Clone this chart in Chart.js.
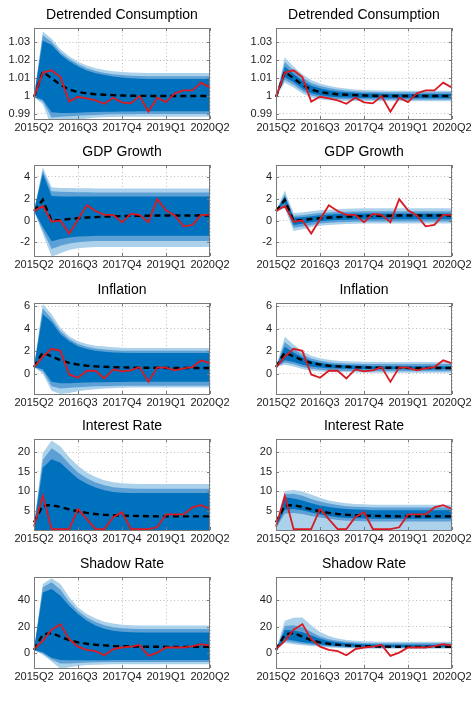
<!DOCTYPE html>
<html>
<head>
<meta charset="utf-8">
<script src="https://cdn.jsdelivr.net/npm/chart.js@4.4.1/dist/chart.umd.min.js"></script>
<style>
  body { margin: 0; background: #fff; }
  #wrap { position: relative; width: 474px; height: 717px; }
  canvas { position: absolute; }
</style>
</head>
<body>
<div id="wrap"></div>
<script>
// 四半期
const quarters = ['2015Q2','2015Q3','2015Q4','2016Q1','2016Q2','2016Q3','2016Q4','2017Q1','2017Q2','2017Q3',
  '2017Q4','2018Q1','2018Q2','2018Q3','2018Q4','2019Q1','2019Q2','2019Q3','2019Q4','2020Q1','2020Q2'];

// Detrended Consumption
const consTicks = [0.99, 1, 1.01, 1.02, 1.03];
const consRange = [0.9872, 1.038];
const consActual = [0.9995, 1.0131, 1.0144, 1.0106, 0.9969, 0.9996, 0.9987, 0.9976, 0.9957, 0.9991, 0.9965, 0.9959, 1.0000, 0.9913, 0.9991, 0.9966, 1.0015, 1.0032, 1.0032, 1.0075, 1.0047];
const consMean = [0.9995, 1.0135, 1.0100, 1.0063, 1.0036, 1.0023, 1.0015, 1.0010, 1.0007, 1.0005, 1.0003, 1.0002, 1.0001, 1.0001, 1.0000, 1.0000, 1.0000, 1.0000, 1.0000, 1.0000, 1.0000];
const consA_hiOut = [0.9995, 1.036, 1.032, 1.0262, 1.0222, 1.0192, 1.0170, 1.0155, 1.0145, 1.0139, 1.0135, 1.0132, 1.0130, 1.0129, 1.0129, 1.0129, 1.0129, 1.0129, 1.0129, 1.0129, 1.0129];
const consA_hiMid = [0.9995, 1.034, 1.0302, 1.0245, 1.0207, 1.0178, 1.0155, 1.0140, 1.0129, 1.0122, 1.0117, 1.0114, 1.0112, 1.0110, 1.0110, 1.0110, 1.0110, 1.0110, 1.0110, 1.0110, 1.0110];
const consA_hiIn = [0.9995, 1.031, 1.0285, 1.0232, 1.0195, 1.0165, 1.0143, 1.0128, 1.0117, 1.0109, 1.0104, 1.0100, 1.0097, 1.0095, 1.0095, 1.0095, 1.0095, 1.0095, 1.0095, 1.0095, 1.0095];
const consA_loIn = [0.9995, 0.998, 0.991, 0.9905, 0.9905, 0.9907, 0.9909, 0.9911, 0.9912, 0.9913, 0.9914, 0.9914, 0.9915, 0.9915, 0.9915, 0.9915, 0.9915, 0.9915, 0.9915, 0.9915, 0.9915];
const consA_loMid = [0.9995, 0.997, 0.988, 0.9885, 0.9888, 0.9890, 0.9893, 0.9895, 0.9897, 0.9898, 0.9899, 0.9899, 0.9900, 0.9900, 0.9900, 0.9900, 0.9900, 0.9900, 0.9900, 0.9900, 0.9900];
const consA_loOut = [0.9995, 0.9955, 0.983, 0.984, 0.9855, 0.9868, 0.9875, 0.9880, 0.9882, 0.9883, 0.9884, 0.9884, 0.9885, 0.9885, 0.9885, 0.9885, 0.9885, 0.9885, 0.9885, 0.9885, 0.9885];
const consB_hiOut = [0.9995, 1.0215, 1.0165, 1.0122, 1.0090, 1.0070, 1.0057, 1.0048, 1.0042, 1.0037, 1.0034, 1.0032, 1.0031, 1.0030, 1.0030, 1.0030, 1.0030, 1.0030, 1.0030, 1.0030, 1.0030];
const consB_hiMid = [0.9995, 1.0190, 1.0143, 1.0103, 1.0073, 1.0056, 1.0045, 1.0037, 1.0031, 1.0027, 1.0024, 1.0023, 1.0022, 1.0021, 1.0021, 1.0021, 1.0021, 1.0021, 1.0021, 1.0021, 1.0021];
const consB_hiIn = [0.9995, 1.0165, 1.0123, 1.0086, 1.0058, 1.0043, 1.0033, 1.0026, 1.0021, 1.0018, 1.0015, 1.0014, 1.0013, 1.0012, 1.0012, 1.0012, 1.0012, 1.0012, 1.0012, 1.0012, 1.0012];
const consB_loIn = [0.9995, 1.0105, 1.0078, 1.0042, 1.0016, 1.0004, 0.9998, 0.9994, 0.9992, 0.9990, 0.9989, 0.9989, 0.9988, 0.9988, 0.9988, 0.9988, 0.9988, 0.9988, 0.9988, 0.9988, 0.9988];
const consB_loMid = [0.9995, 1.0090, 1.0063, 1.0028, 1.0003, 0.9992, 0.9987, 0.9984, 0.9982, 0.9981, 0.9981, 0.9980, 0.9980, 0.9980, 0.9980, 0.9980, 0.9980, 0.9980, 0.9980, 0.9980, 0.9980];
const consB_loOut = [0.9995, 1.0075, 1.0048, 1.0014, 0.9991, 0.9981, 0.9976, 0.9974, 0.9973, 0.9972, 0.9972, 0.9971, 0.9971, 0.9971, 0.9971, 0.9971, 0.9971, 0.9971, 0.9971, 0.9971, 0.9971];

// GDP Growth
const gdpTicks = [-2, 0, 2, 4];
const gdpRange = [-3.25, 5.1];
const gdpActual = [0.87, 1.34, -0.1, 0.0, -1.19, 0.1, 1.4, 0.88, 0.53, 0.53, -0.16, 0.62, 0.53, -0.16, 1.97, 0.94, 0.47, -0.53, -0.4, 0.53, 0.53];
const gdpMean = [0.87, 1.9, -0.02, 0.05, 0.15, 0.22, 0.28, 0.32, 0.36, 0.39, 0.41, 0.43, 0.44, 0.45, 0.46, 0.46, 0.47, 0.47, 0.47, 0.47, 0.47];
const gdpA_hiOut = [0.87, 4.9, 3.05, 3.0, 2.98, 2.97, 2.96, 2.95, 2.95, 2.95, 2.95, 2.95, 2.95, 2.95, 2.95, 2.95, 2.95, 2.95, 2.95, 2.95, 2.95];
const gdpA_hiMid = [0.87, 4.6, 2.7, 2.65, 2.62, 2.6, 2.6, 2.58, 2.58, 2.58, 2.58, 2.58, 2.58, 2.58, 2.58, 2.58, 2.58, 2.58, 2.58, 2.58, 2.58];
const gdpA_hiIn = [0.87, 4.3, 2.25, 2.22, 2.2, 2.2, 2.2, 2.2, 2.2, 2.2, 2.2, 2.2, 2.2, 2.2, 2.2, 2.2, 2.2, 2.2, 2.2, 2.2, 2.2];
const gdpA_loIn = [0.87, -0.6, -1.9, -1.7, -1.55, -1.47, -1.43, -1.4, -1.4, -1.4, -1.4, -1.4, -1.4, -1.4, -1.4, -1.4, -1.4, -1.4, -1.4, -1.4, -1.4];
const gdpA_loMid = [0.87, -0.9, -2.6, -2.3, -2.1, -1.98, -1.92, -1.88, -1.88, -1.88, -1.88, -1.88, -1.88, -1.88, -1.88, -1.88, -1.88, -1.88, -1.88, -1.88, -1.88];
const gdpA_loOut = [0.87, -1.2, -3.3, -3.0, -2.7, -2.55, -2.47, -2.42, -2.42, -2.42, -2.42, -2.42, -2.42, -2.42, -2.42, -2.42, -2.42, -2.42, -2.42, -2.42, -2.42];
const gdpB_hiOut = [0.87, 2.75, 0.7, 0.75, 0.85, 0.95, 1.0, 1.05, 1.08, 1.1, 1.12, 1.12, 1.12, 1.12, 1.12, 1.12, 1.12, 1.12, 1.12, 1.12, 1.12];
const gdpB_hiMid = [0.87, 2.4, 0.45, 0.5, 0.6, 0.7, 0.75, 0.8, 0.82, 0.84, 0.86, 0.86, 0.86, 0.86, 0.86, 0.86, 0.86, 0.86, 0.86, 0.86, 0.86];
const gdpB_hiIn = [0.87, 2.2, 0.25, 0.3, 0.4, 0.5, 0.55, 0.6, 0.62, 0.64, 0.66, 0.66, 0.66, 0.66, 0.66, 0.66, 0.66, 0.66, 0.66, 0.66, 0.66];
const gdpB_loIn = [0.87, 1.6, -0.4, -0.3, -0.15, -0.05, 0.0, 0.05, 0.08, 0.1, 0.12, 0.12, 0.12, 0.12, 0.12, 0.12, 0.12, 0.12, 0.12, 0.12, 0.12];
const gdpB_loMid = [0.87, 1.35, -0.65, -0.55, -0.4, -0.27, -0.2, -0.15, -0.12, -0.1, -0.08, -0.08, -0.08, -0.08, -0.08, -0.08, -0.08, -0.08, -0.08, -0.08, -0.08];
const gdpB_loOut = [0.87, 1.1, -0.95, -0.8, -0.62, -0.48, -0.4, -0.35, -0.31, -0.29, -0.27, -0.27, -0.27, -0.27, -0.27, -0.27, -0.27, -0.27, -0.27, -0.27, -0.27];

// Inflation
const inflTicks = [0, 2, 4, 6];
const inflRange = [-1.8, 6.3];
const inflActual = [0.57, 1.53, 2.22, 2.04, -0.06, -0.36, 0.27, 0.27, -0.42, 0.39, 0.21, 0.3, 0.6, -0.72, 0.57, 0.54, 0.3, 0.48, 0.6, 1.2, 0.93];
const inflMean = [0.6, 1.9, 1.55, 1.2, 0.97, 0.82, 0.72, 0.66, 0.62, 0.59, 0.57, 0.55, 0.54, 0.53, 0.53, 0.52, 0.52, 0.51, 0.51, 0.51, 0.51];
const inflA_hiOut = [0.6, 6.2, 5.3, 4.1, 3.35, 2.9, 2.65, 2.5, 2.42, 2.36, 2.32, 2.3, 2.3, 2.3, 2.3, 2.3, 2.3, 2.3, 2.3, 2.3, 2.3];
const inflA_hiMid = [0.6, 5.8, 4.9, 3.8, 3.1, 2.65, 2.4, 2.25, 2.15, 2.1, 2.06, 2.04, 2.04, 2.04, 2.04, 2.04, 2.04, 2.04, 2.04, 2.04, 2.04];
const inflA_hiIn = [0.6, 5.3, 4.6, 3.55, 2.9, 2.45, 2.2, 2.05, 1.95, 1.9, 1.87, 1.85, 1.85, 1.85, 1.85, 1.85, 1.85, 1.85, 1.85, 1.85, 1.85];
const inflA_loIn = [0.6, 0.4, -0.7, -0.85, -0.85, -0.8, -0.78, -0.76, -0.75, -0.74, -0.73, -0.72, -0.72, -0.72, -0.72, -0.72, -0.72, -0.72, -0.72, -0.72, -0.72];
const inflA_loMid = [0.6, 0.2, -1.1, -1.3, -1.25, -1.2, -1.15, -1.12, -1.1, -1.08, -1.07, -1.06, -1.06, -1.06, -1.06, -1.06, -1.06, -1.06, -1.06, -1.06, -1.06];
const inflA_loOut = [0.6, 0.0, -1.5, -1.8, -1.7, -1.55, -1.45, -1.38, -1.32, -1.28, -1.25, -1.22, -1.22, -1.22, -1.22, -1.22, -1.22, -1.22, -1.22, -1.22, -1.22];
const inflB_hiOut = [0.6, 3.3, 2.6, 2.0, 1.6, 1.38, 1.25, 1.17, 1.12, 1.09, 1.07, 1.05, 1.05, 1.05, 1.05, 1.05, 1.05, 1.05, 1.05, 1.05, 1.05];
const inflB_hiMid = [0.6, 2.8, 2.2, 1.7, 1.35, 1.15, 1.03, 0.96, 0.92, 0.89, 0.87, 0.86, 0.86, 0.86, 0.86, 0.86, 0.86, 0.86, 0.86, 0.86, 0.86];
const inflB_hiIn = [0.6, 2.4, 1.9, 1.45, 1.15, 0.98, 0.87, 0.8, 0.76, 0.73, 0.71, 0.68, 0.67, 0.67, 0.67, 0.67, 0.67, 0.67, 0.67, 0.67, 0.67];
const inflB_loIn = [0.6, 1.2, 1.05, 0.8, 0.65, 0.55, 0.5, 0.46, 0.44, 0.42, 0.41, 0.4, 0.4, 0.4, 0.4, 0.4, 0.4, 0.4, 0.4, 0.4, 0.4];
const inflB_loMid = [0.6, 1.0, 0.85, 0.6, 0.45, 0.36, 0.3, 0.27, 0.25, 0.24, 0.23, 0.22, 0.22, 0.22, 0.22, 0.22, 0.22, 0.22, 0.22, 0.22, 0.22];
const inflB_loOut = [0.6, 0.8, 0.65, 0.42, 0.28, 0.2, 0.16, 0.14, 0.13, 0.12, 0.11, 0.1, 0.1, 0.1, 0.1, 0.1, 0.1, 0.1, 0.1, 0.1, 0.1];

// Interest Rate
const rateTicks = [5, 10, 15, 20];
const rateRange = [0, 23.4];
const rateActual = [0.9, 8.8, 0.25, 0.25, 0.25, 5.4, 2.8, 0.25, 0.25, 3.3, 4.6, 0.25, 0.25, 0.25, 0.7, 4.0, 4.0, 4.0, 5.8, 6.4, 5.4];
const rateMean = [2.0, 6.3, 6.4, 5.9, 5.3, 4.8, 4.4, 4.1, 3.9, 3.8, 3.7, 3.65, 3.6, 3.55, 3.5, 3.5, 3.5, 3.5, 3.5, 3.5, 3.5];
const rateA_hiOut = [1.0, 19.8, 23.0, 21.5, 18.7, 16.5, 14.8, 13.6, 12.8, 12.3, 12.0, 11.9, 11.8, 11.8, 11.8, 11.8, 11.8, 11.8, 11.8, 11.8, 11.8];
const rateA_hiMid = [1.0, 18.0, 21.0, 19.5, 17.0, 14.8, 13.3, 12.2, 11.5, 11.0, 10.8, 10.7, 10.6, 10.6, 10.6, 10.6, 10.6, 10.6, 10.6, 10.6, 10.6];
const rateA_hiIn = [1.0, 16.0, 18.2, 17.3, 15.2, 13.2, 11.9, 10.9, 10.2, 9.8, 9.6, 9.5, 9.5, 9.5, 9.5, 9.5, 9.5, 9.5, 9.5, 9.5, 9.5];
const rateA_loIn = [0, 0, 0, 0, 0, 0, 0, 0, 0, 0, 0, 0, 0, 0, 0, 0, 0, 0, 0, 0, 0];
const rateA_loMid = [0, 0, 0, 0, 0, 0, 0, 0, 0, 0, 0, 0, 0, 0, 0, 0, 0, 0, 0, 0, 0];
const rateA_loOut = [0, 0, 0, 0, 0, 0, 0, 0, 0, 0, 0, 0, 0, 0, 0, 0, 0, 0, 0, 0, 0];
const rateB_hiOut = [1.0, 10.0, 10.3, 9.9, 9.1, 8.3, 7.6, 7.2, 6.9, 6.7, 6.6, 6.5, 6.5, 6.5, 6.5, 6.5, 6.5, 6.5, 6.5, 6.5, 6.5];
const rateB_hiMid = [1.0, 9.2, 9.3, 8.8, 8.0, 7.3, 6.8, 6.4, 6.1, 6.0, 5.9, 5.8, 5.8, 5.8, 5.8, 5.8, 5.8, 5.8, 5.8, 5.8, 5.8];
const rateB_hiIn = [1.0, 8.4, 8.1, 7.6, 6.9, 6.3, 5.9, 5.6, 5.4, 5.3, 5.2, 5.1, 5.1, 5.1, 5.1, 5.1, 5.1, 5.1, 5.1, 5.1, 5.1];
const rateB_loIn = [0.8, 5.2, 5.4, 5.1, 4.5, 4.0, 3.6, 3.3, 3.1, 3.0, 2.95, 2.9, 2.9, 2.9, 2.9, 2.9, 2.9, 2.9, 2.9, 2.9, 2.9];
const rateB_loMid = [0.5, 4.2, 4.4, 4.1, 3.6, 3.2, 2.9, 2.6, 2.4, 2.3, 2.25, 2.2, 2.2, 2.2, 2.2, 2.2, 2.2, 2.2, 2.2, 2.2, 2.2];
const rateB_loOut = [0, 0, 0, 0, 0, 0, 0, 0, 0, 0, 0, 0, 0, 0, 0, 0, 0, 0, 0, 0, 0];

// Shadow Rate
const shadTicks = [0, 20, 40];
const shadRange = [-11.5, 57.8];
const shadActual = [2.8, 9.2, 17.6, 21.9, 10.4, 4.8, 2.3, 1.3, -1.8, 2.8, 4.1, 4.8, 6.1, -2.3, 0.25, 4.1, 4.1, 4.1, 5.1, 6.6, 5.6];
const shadMean = [2.3, 14.0, 15.2, 12.3, 9.8, 8.0, 7.0, 6.2, 5.7, 5.3, 5.1, 4.9, 4.8, 4.7, 4.7, 4.6, 4.6, 4.6, 4.6, 4.6, 4.6];
const shadA_hiOut = [2.3, 52.5, 56.8, 52.5, 42.3, 34.6, 29.6, 26.2, 23.8, 22.3, 21.4, 21.0, 20.8, 20.8, 20.8, 20.8, 20.8, 20.8, 20.8, 20.8, 20.8];
const shadA_hiMid = [2.3, 50.0, 53.8, 48.0, 39.0, 32.0, 27.0, 23.5, 21.0, 19.6, 18.8, 18.4, 18.2, 18.2, 18.2, 18.2, 18.2, 18.2, 18.2, 18.2, 18.2];
const shadA_hiIn = [2.3, 46.0, 48.7, 43.6, 35.9, 29.6, 24.5, 20.8, 18.3, 16.9, 16.1, 15.8, 15.6, 15.6, 15.6, 15.6, 15.6, 15.6, 15.6, 15.6, 15.6];
const shadA_loIn = [2.3, 0.5, -3.6, -5.4, -5.6, -5.6, -5.6, -5.6, -5.6, -5.5, -5.5, -5.5, -5.5, -5.5, -5.5, -5.5, -5.5, -5.5, -5.5, -5.5, -5.5];
const shadA_loMid = [2.3, -0.5, -5.0, -8.0, -8.0, -7.6, -7.3, -7.1, -7.0, -6.9, -6.9, -6.9, -6.9, -6.9, -6.9, -6.9, -6.9, -6.9, -6.9, -6.9, -6.9];
const shadA_loOut = [2.3, -1.5, -6.5, -12.0, -11.0, -10.0, -9.3, -9.0, -8.8, -8.7, -8.7, -8.7, -8.7, -8.7, -8.7, -8.7, -8.7, -8.7, -8.7, -8.7, -8.7];
const shadB_hiOut = [2.3, 24.5, 26.8, 27.0, 21.0, 16.0, 12.8, 11.0, 9.8, 9.2, 8.8, 8.6, 8.5, 8.5, 8.5, 8.5, 8.5, 8.5, 8.5, 8.5, 8.5];
const shadB_hiMid = [2.3, 20.5, 21.0, 19.5, 16.0, 12.5, 10.3, 9.2, 8.4, 7.9, 7.6, 7.4, 7.3, 7.3, 7.3, 7.3, 7.3, 7.3, 7.3, 7.3, 7.3];
const shadB_hiIn = [2.3, 17.5, 17.0, 15.8, 13.2, 10.7, 9.0, 8.2, 7.4, 6.9, 6.6, 6.4, 6.3, 6.3, 6.3, 6.3, 6.3, 6.3, 6.3, 6.3, 6.3];
const shadB_loIn = [2.3, 10.5, 9.4, 8.2, 7.4, 6.4, 5.7, 5.2, 4.9, 4.7, 4.5, 4.4, 4.3, 4.3, 4.3, 4.3, 4.3, 4.3, 4.3, 4.3, 4.3];
const shadB_loMid = [2.3, 9.0, 8.0, 7.0, 6.3, 5.5, 4.9, 4.5, 4.2, 4.0, 3.9, 3.8, 3.7, 3.7, 3.7, 3.7, 3.7, 3.7, 3.7, 3.7, 3.7];
const shadB_loOut = [2.3, 7.5, 6.6, 5.8, 5.2, 4.6, 4.1, 3.8, 3.6, 3.4, 3.3, 3.2, 3.1, 3.1, 3.1, 3.1, 3.1, 3.1, 3.1, 3.1, 3.1];

// 行ごとの設定
const rows = [
  { title: 'Detrended Consumption', actual: consActual, mean: consMean, range: consRange, ticks: consTicks,
    left: [consA_hiOut, consA_loOut, consA_hiMid, consA_loMid, consA_hiIn, consA_loIn],
    right: [consB_hiOut, consB_loOut, consB_hiMid, consB_loMid, consB_hiIn, consB_loIn] },
  { title: 'GDP Growth', actual: gdpActual, mean: gdpMean, range: gdpRange, ticks: gdpTicks,
    left: [gdpA_hiOut, gdpA_loOut, gdpA_hiMid, gdpA_loMid, gdpA_hiIn, gdpA_loIn],
    right: [gdpB_hiOut, gdpB_loOut, gdpB_hiMid, gdpB_loMid, gdpB_hiIn, gdpB_loIn] },
  { title: 'Inflation', actual: inflActual, mean: inflMean, range: inflRange, ticks: inflTicks,
    left: [inflA_hiOut, inflA_loOut, inflA_hiMid, inflA_loMid, inflA_hiIn, inflA_loIn],
    right: [inflB_hiOut, inflB_loOut, inflB_hiMid, inflB_loMid, inflB_hiIn, inflB_loIn] },
  { title: 'Interest Rate', actual: rateActual, mean: rateMean, range: rateRange, ticks: rateTicks,
    left: [rateA_hiOut, rateA_loOut, rateA_hiMid, rateA_loMid, rateA_hiIn, rateA_loIn],
    right: [rateB_hiOut, rateB_loOut, rateB_hiMid, rateB_loMid, rateB_hiIn, rateB_loIn] },
  { title: 'Shadow Rate', actual: shadActual, mean: shadMean, range: shadRange, ticks: shadTicks,
    left: [shadA_hiOut, shadA_loOut, shadA_hiMid, shadA_loMid, shadA_hiIn, shadA_loIn],
    right: [shadB_hiOut, shadB_loOut, shadB_hiMid, shadB_loMid, shadB_hiIn, shadB_loIn] }
];

const bandColors = ['rgb(172,209,235)', 'rgb(92,160,213)', 'rgb(0,114,189)'];
const fontFamily = '"Liberation Sans", Arial, Helvetica, sans-serif';
const rowTops = [0, 137, 275, 411, 549];

// 枠と内向きの目盛り
const boxPlugin = {
  id: 'box',
  afterDatasetsDraw(chart) {
    const { ctx, chartArea: a, scales } = chart;
    ctx.save();
    ctx.strokeStyle = '#7a7a7a';
    ctx.lineWidth = 1;
    ctx.beginPath();
    scales.x.ticks.forEach((t, i) => {
      if (i % 5 !== 0) return;
      const x = Math.round(scales.x.getPixelForTick(i)) + 0.5;
      ctx.moveTo(x, a.bottom); ctx.lineTo(x, a.bottom - 3);
      ctx.moveTo(x, a.top); ctx.lineTo(x, a.top + 3);
    });
    scales.y.ticks.forEach(t => {
      const y = Math.round(scales.y.getPixelForValue(t.value)) + 0.5;
      ctx.moveTo(a.left, y); ctx.lineTo(a.left + 3, y);
      ctx.moveTo(a.right, y); ctx.lineTo(a.right - 3, y);
    });
    ctx.stroke();
    ctx.strokeRect(Math.round(a.left) + 0.5, Math.round(a.top) + 0.5, Math.round(a.width) - 1, Math.round(a.height));
    ctx.restore();
  }
};

function makeChart(row, bands, col, top) {
  const canvas = document.createElement('canvas');
  canvas.width = 237;
  canvas.height = 140;
  canvas.style.left = (col * 237) + 'px';
  canvas.style.top = top + 'px';
  document.getElementById('wrap').appendChild(canvas);

  const datasets = [];
  for (let k = 0; k < 3; k++) {
    datasets.push({ data: bands[k * 2], fill: k * 2 + 1, backgroundColor: bandColors[k], borderColor: 'transparent', borderWidth: 0, order: 5 - k });
    datasets.push({ data: bands[k * 2 + 1], fill: false, borderColor: 'transparent', borderWidth: 0, order: 5 - k });
  }
  datasets.push({ data: row.mean, fill: false, borderColor: '#000', borderWidth: 2.4, borderDash: [6, 4], order: 1 });
  datasets.push({ data: row.actual, fill: false, borderColor: 'rgb(218,26,34)', borderWidth: 1.8, order: 0 });

  new Chart(canvas, {
    type: 'line',
    data: { labels: quarters, datasets: datasets },
    plugins: [boxPlugin],
    options: {
      responsive: false,
      animation: false,
      events: [],
      layout: { padding: { left: 0, right: col === 0 ? 27 : 22, top: 0, bottom: 0 } },
      elements: { point: { radius: 0 }, line: { tension: 0 } },
      plugins: {
        legend: { display: false },
        tooltip: { enabled: false },
        title: {
          display: true, text: row.title, color: '#000', fullSize: false,
          font: { family: fontFamily, size: 14, weight: 'normal' },
          padding: { top: 7, bottom: 4.2 }
        }
      },
      scales: {
        x: {
          grid: {
            drawTicks: false,
            color: c => (c.index % 5 === 0 ? '#bdbdbd' : 'transparent')
          },
          border: { display: false, dash: [1, 2.5] },
          ticks: {
            autoSkip: false, maxRotation: 0, padding: 2, color: '#222',
            font: { family: fontFamily, size: 11 },
            callback: (v, i) => (i % 5 === 0 ? quarters[i] : '')
          },
          afterFit: s => { s.height = 21; s.paddingLeft = 0; s.paddingRight = 0; }
        },
        y: {
          min: row.range[0], max: row.range[1],
          grid: { drawTicks: false, color: '#bdbdbd' },
          border: { display: false, dash: [1, 2.5] },
          ticks: {
            padding: 4, color: '#222',
            font: { family: fontFamily, size: 11 },
            callback: v => String(v)
          },
          afterBuildTicks: s => { s.ticks = row.ticks.map(v => ({ value: v })); },
          afterFit: s => { s.width = col === 0 ? 34 : 39; s.paddingTop = 0; s.paddingBottom = 0; }
        }
      }
    }
  });
}

rows.forEach((row, r) => {
  makeChart(row, row.left, 0, rowTops[r]);
  makeChart(row, row.right, 1, rowTops[r]);
});
</script>
</body>
</html>
